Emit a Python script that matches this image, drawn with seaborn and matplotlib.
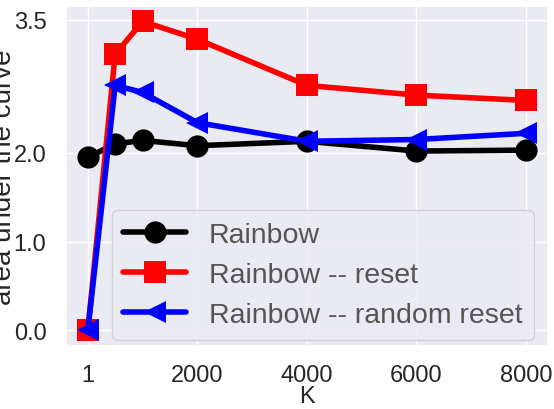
import pandas as pd
import matplotlib.pyplot as plt
import seaborn as sns

# values
k_values = [1, 500, 1000, 2000, 4000, 6000, 8000]
rainbow = [1.95, 2.10, 2.14, 2.08, 2.13, 2.02, 2.03]
rainbow_reset = [0.0, 3.11, 3.48, 3.28, 2.76, 2.65, 2.59]
rainbow_random_reset = [0.0, 2.76, 2.68, 2.34, 2.13, 2.15, 2.22]

series_names = ["Rainbow", "Rainbow -- reset", "Rainbow -- random reset"]
series_values = [rainbow, rainbow_reset, rainbow_random_reset]
colors = ["black", "red", "blue"]
markers = ["o", "s", "<"]

x_ticks = [1, 2000, 4000, 6000, 8000]
y_ticks = [0.0, 1.0, 2.0, 3.5]

sns.set_theme(style="darkgrid")
plt.rcParams["font.family"] = ["Liberation Sans", "DejaVu Sans"]

fig = plt.figure(figsize=(5.54, 4.10), dpi=100)
ax = fig.add_axes([0.119, 0.154, 0.870, 0.829])

for name, vals, c, m in zip(series_names, series_values, colors, markers):
    df = pd.DataFrame({"K": k_values, "auc": vals})
    sns.lineplot(data=df, x="K", y="auc", ax=ax, color=c, marker=m,
                 markersize=16, markeredgewidth=0, linewidth=4, label=name)

ax.set_xticks(x_ticks)
ax.set_xticklabels([str(t) for t in x_ticks])
ax.set_yticks(y_ticks)
ax.set_yticklabels([f"{t:.1f}" for t in y_ticks])
ax.tick_params(axis="x", labelsize=17, pad=7)
ax.tick_params(axis="y", labelsize=17, pad=8)
ax.set_xlabel("K", fontsize=17, labelpad=-1)
ax.set_ylabel("area under the curve", fontsize=20, labelpad=-2)

leg = ax.legend(loc="lower right", bbox_to_anchor=(0.971, 0.018), borderaxespad=0,
                fontsize=20.5, handlelength=2.2)
for t in leg.get_texts():
    t.set_color("#555555")

fig.savefig("out.png", dpi=100)
